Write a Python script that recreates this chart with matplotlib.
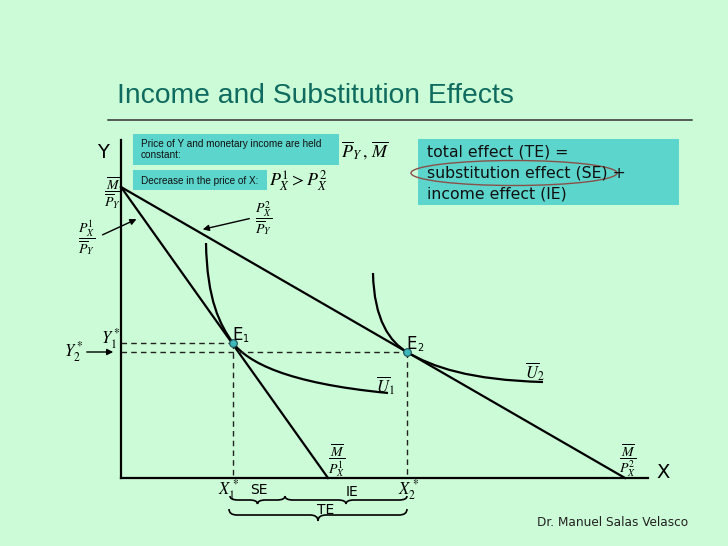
import matplotlib
matplotlib.use("Agg")
import matplotlib.pyplot as plt
from matplotlib.path import Path
from matplotlib.patches import PathPatch, Ellipse, FancyBboxPatch

plt.rcParams['mathtext.fontset'] = 'stix'

# --- diagram data (slide pixel coordinates, y grows downward) ---
origin = (121, 478)
y_axis_top = 140
x_axis_end = 648
budget_start = (121, 187)          # M / Py intercept
budget1_end = (328, 478)           # M / Px1 intercept
budget2_end = (625, 478)           # M / Px2 intercept
e1 = (233, 343)
e2 = (407, 352)

# indifference curves as two cubic Bezier pieces each (top -> E -> right)
u1_pts = [(206, 243), (207, 300), (220, 325), e1,
          (248, 362), (285, 383), (388, 393)]
u2_pts = [(373, 273), (374, 320), (390, 342), e2,
          (432, 367), (470, 380), (543, 382)]

# braces: (x_left, x_right, y_top, y_mid, y_tip)
braces = [(230, 285, 496, 500, 504),
          (285, 407, 496, 500, 504),
          (229, 407, 509, 515, 521)]
brace_text = [("SE", 259, 490), ("IE", 352, 492), ("TE", 326, 510)]

bg = '#ccfbd7'
teal_box = '#5cd5cc'
title_col = '#0f6b5f'

fig = plt.figure(figsize=(7.28, 5.46), dpi=100, facecolor=bg)
ax = fig.add_axes([0, 0, 1, 1])
ax.set_xlim(0, 728)
ax.set_ylim(546, 0)
ax.axis('off')
ax.set_facecolor(bg)

# title and rule
ax.text(117, 96, "Income and Substitution Effects", fontsize=20.3, color=title_col,
        family='Liberation Sans', va='center', ha='left')
ax.plot([108, 692], [120, 120], color='#333333', lw=1.1)

# axes
ax.plot([origin[0], origin[0]], [y_axis_top, origin[1]], color='black', lw=1.6)
ax.plot([origin[0], x_axis_end], [origin[1], origin[1]], color='black', lw=1.6)
ax.text(103, 152, "Y", fontsize=14, va='center', ha='center')
ax.text(663, 472, "X", fontsize=14, va='center', ha='center')

# budget lines
ax.plot([budget_start[0], budget1_end[0]], [budget_start[1], budget1_end[1]], color='black', lw=1.6)
ax.plot([budget_start[0], budget2_end[0]], [budget_start[1], budget2_end[1]], color='black', lw=1.6)

# indifference curves
codes = [Path.MOVETO] + [Path.CURVE4] * 6
for pts in (u1_pts, u2_pts):
    ax.add_patch(PathPatch(Path(pts, codes), fill=False, color='black', lw=1.6))

# dashed guides
dash = dict(color='#222222', lw=1.0, ls=(0, (4, 3)))
ax.plot([origin[0], e1[0]], [e1[1], e1[1]], **dash)
ax.plot([origin[0], e2[0]], [e2[1], e2[1]], **dash)
ax.plot([e1[0], e1[0]], [e1[1], origin[1]], **dash)
ax.plot([e2[0], e2[0]], [e2[1], origin[1]], **dash)

# equilibrium points
ax.scatter([e1[0], e2[0]], [e1[1], e2[1]], s=30, color='#3fb6b8',
           edgecolor='#1d4f55', lw=0.8, zorder=5)
ax.text(232, 335, "E", fontsize=12, va='center', ha='left')
ax.text(243, 339, "1", fontsize=7, va='center', ha='left')
ax.text(406, 344, "E", fontsize=12, va='center', ha='left')
ax.text(417, 348, "2", fontsize=7, va='center', ha='left')

# curve labels
ax.text(385, 386, r"$\overline{U}_1$", fontsize=12, va='center', ha='center')
ax.text(535, 372, r"$\overline{U}_2$", fontsize=12, va='center', ha='center')

# intercept labels
frac_fs = 10
ax.text(112, 193, r"$\dfrac{\overline{M}}{\overline{P}_Y}$", fontsize=frac_fs, va='center', ha='center')
ax.text(87, 238, r"$\dfrac{P_X^1}{\overline{P}_Y}$", fontsize=frac_fs, va='center', ha='center')
ax.text(264, 218, r"$\dfrac{P_X^2}{\overline{P}_Y}$", fontsize=frac_fs, va='center', ha='center')
ax.text(337, 461, r"$\dfrac{\overline{M}}{P_X^1}$", fontsize=frac_fs, va='center', ha='center')
ax.text(628, 461, r"$\dfrac{\overline{M}}{P_X^2}$", fontsize=frac_fs, va='center', ha='center')

# starred quantities
ax.text(111, 339, r"$Y_1^*$", fontsize=12, va='center', ha='center')
ax.text(74, 352, r"$Y_2^*$", fontsize=12, va='center', ha='center')
ax.text(229, 490, r"$X_1^*$", fontsize=12, va='center', ha='center')
ax.text(409, 490, r"$X_2^*$", fontsize=12, va='center', ha='center')

# arrows
arw = dict(arrowstyle='-|>', color='black', lw=1.0, mutation_scale=9)
ax.annotate("", xy=(139, 218), xytext=(100, 236), arrowprops=arw)
ax.annotate("", xy=(200, 230), xytext=(252, 218), arrowprops=arw)
ax.annotate("", xy=(116, 352), xytext=(84, 352), arrowprops=arw)

# braces
for x0, x1, yt, ym, yb in braces:
    xm = (x0 + x1) / 2
    r = min(8, (x1 - x0) / 6)
    verts = [(x0, yt), (x0, ym), (x0 + r, ym), (xm - r, ym), (xm, ym), (xm, yb),
             (xm, ym), (xm + r, ym), (x1 - r, ym), (x1, ym), (x1, yt)]
    bc = [Path.MOVETO, Path.CURVE3, Path.CURVE3, Path.LINETO, Path.CURVE3, Path.CURVE3,
          Path.CURVE3, Path.CURVE3, Path.LINETO, Path.CURVE3, Path.CURVE3]
    ax.add_patch(PathPatch(Path(verts, bc), fill=False, color='black', lw=1.2))
for s, x, y in brace_text:
    ax.text(x, y, s, fontsize=10, va='center', ha='center')

# text boxes
ax.add_patch(FancyBboxPatch((133, 134), 206, 31, boxstyle='square,pad=0',
                            fc=teal_box, ec='none'))
ax.text(141, 149.5, "Price of Y and monetary income are held\nconstant:", fontsize=7.2,
        family='Liberation Sans', va='center', ha='left', color='#111111', linespacing=1.2)
ax.text(341, 151, r"$\overline{P}_Y\,,\,\overline{M}$", fontsize=13, va='center', ha='left')

ax.add_patch(FancyBboxPatch((133, 170), 134, 20, boxstyle='square,pad=0',
                            fc=teal_box, ec='none'))
ax.text(141, 180.5, "Decrease in the price of X:", fontsize=7.2,
        family='Liberation Sans', va='center', ha='left', color='#111111')
ax.text(269, 181, r"$P_X^1 > P_X^2$", fontsize=13, va='center', ha='left')

ax.add_patch(FancyBboxPatch((418, 139), 261, 66, boxstyle='square,pad=0',
                            fc=teal_box, ec='none'))
ax.text(427, 173, "total effect (TE) =\nsubstitution effect (SE) +\nincome effect (IE)",
        fontsize=11.3, va='center', ha='left', color='#111111', linespacing=1.5)
ax.add_patch(Ellipse((514, 173), 206, 25, fill=False, ec='#8a5048', lw=1.0))

# footer
ax.text(537, 523, "Dr. Manuel Salas Velasco", fontsize=8.7, va='center', ha='left',
        color='#222222')

fig.savefig("out.png", dpi=100, facecolor=bg)
